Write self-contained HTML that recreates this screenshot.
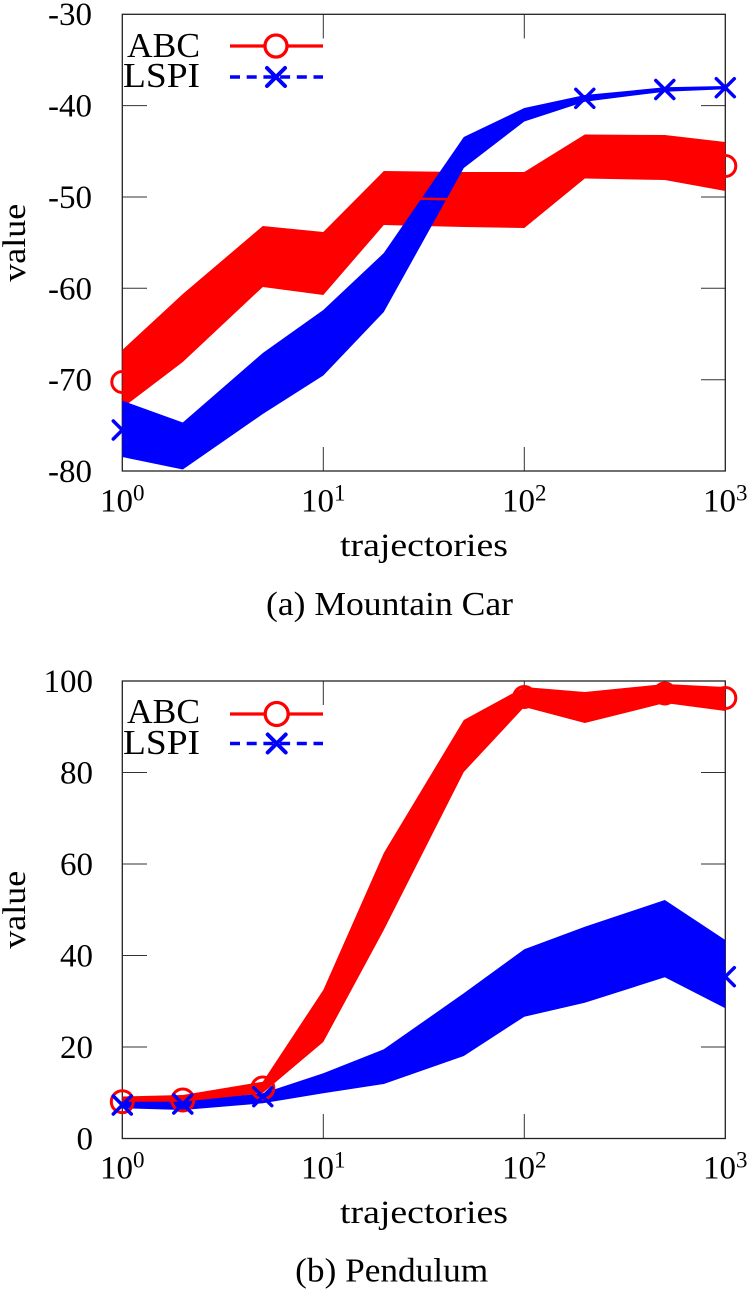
<!DOCTYPE html>
<html>
<head>
<meta charset="utf-8">
<style>
html,body{margin:0;padding:0;background:#fff;}
svg{display:block;}
text{font-family:"Liberation Serif",serif;fill:#000;}
</style>
</head>
<body>
<svg width="751" height="1292" viewBox="0 0 751 1292" xmlns="http://www.w3.org/2000/svg">
<defs>
<clipPath id="ca"><rect x="122.3" y="14.3" width="603" height="456.7"/></clipPath>
<clipPath id="cb"><rect x="122.3" y="681" width="603" height="457.5"/></clipPath>
</defs>

<!-- ================= PLOT A ================= -->
<g stroke="#333" stroke-width="1" fill="none">
  <!-- left ticks -->
  <line x1="122.3" y1="105.6" x2="147" y2="105.6"/>
  <line x1="122.3" y1="197" x2="147" y2="197"/>
  <line x1="122.3" y1="288.3" x2="147" y2="288.3"/>
  <line x1="122.3" y1="379.7" x2="147" y2="379.7"/>
  <!-- right ticks -->
  <line x1="701" y1="105.6" x2="725.3" y2="105.6"/>
  <line x1="701" y1="197" x2="725.3" y2="197"/>
  <line x1="701" y1="288.3" x2="725.3" y2="288.3"/>
  <line x1="701" y1="379.7" x2="725.3" y2="379.7"/>
  <!-- top ticks -->
  <line x1="323.3" y1="14.3" x2="323.3" y2="38.5"/>
  <line x1="524.3" y1="14.3" x2="524.3" y2="38.5"/>
  <!-- bottom ticks -->
  <line x1="323.3" y1="447" x2="323.3" y2="471"/>
  <line x1="524.3" y1="447" x2="524.3" y2="471"/>
</g>
<rect x="122.3" y="14.3" width="603" height="456.7" fill="none" stroke="#222" stroke-width="1.3"/>

<!-- bands A -->
<g clip-path="url(#ca)">
  <polygon fill="#ff0000" points="122.3,350 182.8,294 262.8,226 323.3,232 383.8,171 463.8,172 524.3,172 584.8,134.5 664.8,135 725.3,142 725.3,191 664.8,180 584.8,178.5 524.3,228 463.8,227 383.8,225 323.3,295 262.8,287 182.8,362 122.3,408"/>
  <polygon fill="#0000ff" points="122.3,400.7 182.8,422.5 262.8,353 323.3,310 383.8,253 463.8,137 524.3,108 584.8,95 664.8,87.3 725.3,86 725.3,89.3 664.8,91.7 584.8,101.7 524.3,121.5 463.8,168 383.8,312 323.3,375.5 262.8,414 182.8,469.5 122.3,457"/>
  <polyline fill="none" stroke="#ff0000" stroke-width="2.5" points="383.8,198 463.8,199.5"/>
</g>
<!-- markers A -->
<g fill="none" stroke="#ff0000" stroke-width="3">
  <circle cx="122.3" cy="382" r="10.5"/>
  <circle cx="725.3" cy="166" r="10.5"/>
</g>
<g stroke="#0000ff" stroke-width="3.5" stroke-linecap="round">
  <path d="M113.3,421 L131.3,439 M113.3,439 L131.3,421"/>
  <path d="M575.8,89.3 L593.8,107.3 M575.8,107.3 L593.8,89.3"/>
  <path d="M655.8,80.5 L673.8,98.5 M655.8,98.5 L673.8,80.5"/>
  <path d="M716.3,78.7 L734.3,96.7 M716.3,96.7 L734.3,78.7"/>
</g>

<!-- legend A -->
<text x="127" y="57" font-size="35" textLength="73" lengthAdjust="spacingAndGlyphs">ABC</text>
<text x="123" y="87" font-size="35" textLength="77" lengthAdjust="spacingAndGlyphs">LSPI</text>
<line x1="230" y1="46" x2="323" y2="46" stroke="#ff0000" stroke-width="3.3"/>
<circle cx="276" cy="46" r="11" fill="#fff" stroke="#ff0000" stroke-width="3.3"/>
<line x1="230" y1="77" x2="323" y2="77" stroke="#0000ff" stroke-width="3.5" stroke-dasharray="10 6.7"/>
<path d="M267,68 L285,86 M267,86 L285,68" stroke="#0000ff" stroke-width="4" stroke-linecap="round"/>

<!-- tick labels A -->
<g font-size="33" text-anchor="end">
  <text x="92" y="25">-30</text>
  <text x="92" y="116.5">-40</text>
  <text x="92" y="208">-50</text>
  <text x="92" y="299.3">-60</text>
  <text x="92" y="390.7">-70</text>
  <text x="92" y="482">-80</text>
</g>
<g font-size="33" text-anchor="middle">
  <text x="122.3" y="511.3">10<tspan dy="-11" font-size="23">0</tspan></text>
  <text x="323.3" y="511.3">10<tspan dy="-11" font-size="23">1</tspan></text>
  <text x="524.3" y="511.3">10<tspan dy="-11" font-size="23">2</tspan></text>
  <text x="725.3" y="511.3">10<tspan dy="-11" font-size="23">3</tspan></text>
</g>
<text x="424" y="556" font-size="33" text-anchor="middle" textLength="168" lengthAdjust="spacingAndGlyphs">trajectories</text>
<text transform="translate(25,242.7) rotate(-90)" font-size="33" text-anchor="middle" textLength="78" lengthAdjust="spacingAndGlyphs">value</text>
<text x="389.5" y="615" font-size="34" text-anchor="middle" textLength="247" lengthAdjust="spacingAndGlyphs">(a) Mountain Car</text>

<!-- ================= PLOT B ================= -->
<g stroke="#333" stroke-width="1" fill="none">
  <line x1="122.3" y1="1047" x2="147" y2="1047"/>
  <line x1="122.3" y1="955.5" x2="147" y2="955.5"/>
  <line x1="122.3" y1="864" x2="147" y2="864"/>
  <line x1="122.3" y1="772.5" x2="147" y2="772.5"/>
  <line x1="701" y1="1047" x2="725.3" y2="1047"/>
  <line x1="701" y1="955.5" x2="725.3" y2="955.5"/>
  <line x1="701" y1="864" x2="725.3" y2="864"/>
  <line x1="701" y1="772.5" x2="725.3" y2="772.5"/>
  <line x1="323.3" y1="681" x2="323.3" y2="705"/>
  <line x1="524.3" y1="681" x2="524.3" y2="705"/>
  <line x1="323.3" y1="1114" x2="323.3" y2="1138.5"/>
  <line x1="524.3" y1="1114" x2="524.3" y2="1138.5"/>
</g>
<rect x="122.3" y="681" width="603" height="457.5" fill="none" stroke="#222" stroke-width="1.3"/>

<g clip-path="url(#cb)">
  <polygon fill="#ff0000" points="122.3,1096.5 182.8,1095 262.8,1081.7 323.3,990 383.8,853 463.8,720 524.3,687 584.8,692 664.8,684 725.3,687 725.3,711 664.8,703 584.8,723 524.3,707 463.8,772 383.8,930 323.3,1042 262.8,1093 182.8,1103 122.3,1103"/>
  <polygon fill="#0000ff" points="122.3,1101.7 182.8,1101.7 262.8,1093.3 323.3,1073.3 383.8,1049.3 463.8,993.3 524.3,949.3 584.8,926.7 664.8,900 725.3,940 725.3,1008.3 664.8,977.3 584.8,1002.7 524.3,1016.7 463.8,1056 383.8,1084 323.3,1093.3 262.8,1103.3 182.8,1110 122.3,1108.3"/>
</g>
<!-- markers B -->
<g fill="none" stroke="#ff0000" stroke-width="3">
  <circle cx="122.3" cy="1101.7" r="11"/>
  <circle cx="182.8" cy="1100" r="11"/>
  <circle cx="262.8" cy="1088" r="11"/>
  <circle cx="524.3" cy="697" r="10.5"/>
  <circle cx="664.8" cy="693.5" r="10.5"/>
  <circle cx="725.3" cy="698" r="10.5"/>
</g>
<g stroke="#0000ff" stroke-width="3.5" stroke-linecap="round">
  <path d="M113.3,1096 L131.3,1114 M113.3,1114 L131.3,1096"/>
  <path d="M173.8,1095 L191.8,1113 M173.8,1113 L191.8,1095"/>
  <path d="M253.8,1087.7 L271.8,1105.7 M253.8,1105.7 L271.8,1087.7"/>
  <path d="M716.3,967.7 L734.3,985.7 M716.3,985.7 L734.3,967.7"/>
</g>

<!-- legend B -->
<text x="127" y="723" font-size="35" textLength="73" lengthAdjust="spacingAndGlyphs">ABC</text>
<text x="123" y="754" font-size="35" textLength="77" lengthAdjust="spacingAndGlyphs">LSPI</text>
<line x1="230" y1="714" x2="323" y2="714" stroke="#ff0000" stroke-width="3.3"/>
<circle cx="276.7" cy="714" r="11.5" fill="#fff" stroke="#ff0000" stroke-width="3.3"/>
<line x1="230" y1="743.5" x2="323" y2="743.5" stroke="#0000ff" stroke-width="3.5" stroke-dasharray="10 6.7"/>
<path d="M267.7,734.5 L285.7,752.5 M267.7,752.5 L285.7,734.5" stroke="#0000ff" stroke-width="4" stroke-linecap="round"/>

<!-- tick labels B -->
<g font-size="33" text-anchor="end">
  <text x="93" y="692">100</text>
  <text x="93" y="783.5">80</text>
  <text x="93" y="875">60</text>
  <text x="93" y="966.5">40</text>
  <text x="93" y="1058">20</text>
  <text x="93" y="1149.5">0</text>
</g>
<g font-size="33" text-anchor="middle">
  <text x="122.3" y="1178.3">10<tspan dy="-11" font-size="23">0</tspan></text>
  <text x="323.3" y="1178.3">10<tspan dy="-11" font-size="23">1</tspan></text>
  <text x="524.3" y="1178.3">10<tspan dy="-11" font-size="23">2</tspan></text>
  <text x="725.3" y="1178.3">10<tspan dy="-11" font-size="23">3</tspan></text>
</g>
<text x="424" y="1223" font-size="33" text-anchor="middle" textLength="168" lengthAdjust="spacingAndGlyphs">trajectories</text>
<text transform="translate(25,909.7) rotate(-90)" font-size="33" text-anchor="middle" textLength="78" lengthAdjust="spacingAndGlyphs">value</text>
<text x="391.7" y="1281.7" font-size="34" text-anchor="middle" textLength="193" lengthAdjust="spacingAndGlyphs">(b) Pendulum</text>
</svg>
</body>
</html>
